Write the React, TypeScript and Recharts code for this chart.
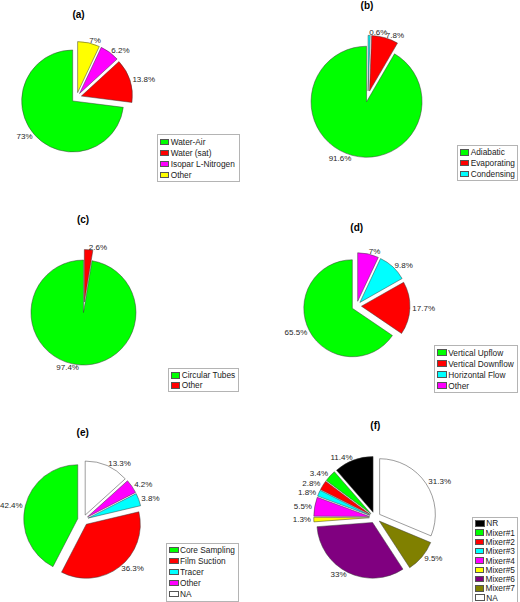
import React from "react";
import { PieChart, Pie, Sector, Legend } from "recharts";

const FONT = '"Liberation Sans", Arial, sans-serif';
const RAD = Math.PI / 180;

// (a) working fluids
const fluidNames = ["Water-Air", "Water (sat)", "Isopar L-Nitrogen", "Other"];
const fluidShares = [73, 13.8, 6.2, 7];
const fluidColors = ["#00ff00", "#ff0000", "#ff00ff", "#ffff00"];

// (b) heat transfer condition
const heatNames = ["Adiabatic", "Evaporating", "Condensing"];
const heatShares = [91.6, 7.8, 0.6];
const heatColors = ["#00ff00", "#ff0000", "#00ffff"];

// (c) geometry
const geometryNames = ["Circular Tubes", "Other"];
const geometryShares = [97.4, 2.6];
const geometryColors = ["#00ff00", "#ff0000"];

// (d) flow orientation
const orientationNames = ["Vertical Upflow", "Vertical Downflow", "Horizontal Flow", "Other"];
const orientationShares = [65.5, 17.7, 9.8, 7];
const orientationColors = ["#00ff00", "#ff0000", "#00ffff", "#ff00ff"];

// (e) measurement method
const methodNames = ["Core Sampling", "Film Suction", "Tracer", "Other", "NA"];
const methodShares = [42.4, 36.3, 3.8, 4.2, 13.3];
const methodColors = ["#00ff00", "#ff0000", "#00ffff", "#ff00ff", "#ffffff"];

// (f) mixer type
const mixerNames = ["NR", "Mixer#1", "Mixer#2", "Mixer#3", "Mixer#4", "Mixer#5", "Mixer#6", "Mixer#7", "NA"];
const mixerShares = [11.4, 3.4, 2.8, 1.8, 5.5, 1.3, 33, 9.5, 31.3];
const mixerColors = ["#000000", "#00ff00", "#ff0000", "#00ffff", "#ff00ff", "#ffff00", "#800080", "#808000", "#ffffff"];

type Panel = {
  title: string;
  names: string[];
  values: number[];
  colors: string[];
  cx: number;
  cy: number;
  r: number;
  tx: number;
  ty: number;
  lx: number;
  ly: number;
  lw: number;
  rowH: number;
};

const panels: Panel[] = [
  { title: "(a)", names: fluidNames, values: fluidShares, colors: fluidColors, cx: 76.5, cy: 97.6, r: 51, tx: 78.5, ty: 14, lx: 156.7, ly: 134.3, lw: 83.5, rowH: 11 },
  { title: "(b)", names: heatNames, values: heatShares, colors: heatColors, cx: 368, cy: 96.4, r: 55.5, tx: 367, ty: 5, lx: 456.7, ly: 145, lw: 61.6, rowH: 10.8 },
  { title: "(c)", names: geometryNames, values: geometryShares, colors: geometryColors, cx: 83.9, cy: 307.3, r: 52.5, tx: 83, ty: 219.3, lx: 167.7, ly: 368.3, lw: 71.6, rowH: 10 },
  { title: "(d)", names: orientationNames, values: orientationShares, colors: orientationColors, cx: 356.6, cy: 306, r: 48.5, tx: 356.7, ty: 226.7, lx: 434.3, ly: 345, lw: 84, rowH: 11 },
  { title: "(e)", names: methodNames, values: methodShares, colors: methodColors, cx: 83, cy: 520, r: 54, tx: 82.7, ty: 431.7, lx: 166, ly: 542.7, lw: 73.3, rowH: 11 },
  { title: "(f)", names: mixerNames, values: mixerShares, colors: mixerColors, cx: 375, cy: 517.5, r: 55.7, tx: 375.3, ty: 425, lx: 472.3, ly: 516.7, lw: 45.7, rowH: 9.3 },
];

function LegendBox({ names, colors, width, rowH }: { names: string[]; colors: string[]; width: number; rowH: number }) {
  return (
    <div
      style={{
        boxSizing: "border-box",
        width,
        border: "1px solid #b4b4b4",
        background: "#fff",
        padding: "1px 2px",
        fontFamily: FONT,
        fontSize: 8.3,
        color: "#1a1a1a",
        whiteSpace: "nowrap",
      }}
    >
      {names.map((n, i) => (
        <div key={n} style={{ display: "flex", alignItems: "center", height: rowH }}>
          <span
            style={{
              display: "inline-block",
              boxSizing: "border-box",
              width: 9.5,
              height: 6.5,
              background: colors[i],
              border: "0.5px solid #555",
              marginRight: 1.5,
            }}
          />
          <span>{n}</span>
        </div>
      ))}
    </div>
  );
}

function PiePanel({ p }: { p: Panel }) {
  const data = p.names.map((name, i) => ({ name, value: p.values[i] }));

  // every slice is pulled out along its mid angle, MATLAB style
  const slice = (props: any) => {
    const { cx, cy, outerRadius, startAngle, endAngle, midAngle, index, value } = props;
    const a = -midAngle * RAD;
    const d = outerRadius * 0.1;
    const ox = cx + d * Math.cos(a);
    const oy = cy + d * Math.sin(a);
    const lr = outerRadius * 1.15;
    const lx = cx + lr * Math.cos(a);
    const ly = cy + lr * Math.sin(a);
    return (
      <g key={`s-${index}`}>
        <Sector
          cx={ox}
          cy={oy}
          innerRadius={0}
          outerRadius={outerRadius}
          startAngle={startAngle}
          endAngle={endAngle}
          fill={p.colors[index]}
          fillOpacity={1}
          stroke="#3a3a3a"
          strokeWidth={0.5}
        />
        <text
          x={lx}
          y={ly}
          textAnchor={Math.cos(a) >= 0 ? "start" : "end"}
          dominantBaseline="central"
          fontFamily={FONT}
          fontSize={8}
          fill="#262626"
          stroke="none"
        >
          {`${value}%`}
        </text>
      </g>
    );
  };

  return (
    <>
      <div
        style={{
          position: "absolute",
          left: p.tx,
          top: p.ty,
          transform: "translate(-50%, -50%)",
          fontFamily: FONT,
          fontWeight: "bold",
          fontSize: 10,
          color: "#000",
          zIndex: 2,
        }}
      >
        {p.title}
      </div>
      <div style={{ position: "absolute", left: 0, top: 0 }}>
        <PieChart width={520} height={602} margin={{ top: 0, right: 0, bottom: 0, left: 0 }}>
          <Pie
            data={data}
            dataKey="value"
            nameKey="name"
            cx={p.cx}
            cy={p.cy}
            outerRadius={p.r}
            startAngle={90}
            endAngle={450}
            fill="none"
            stroke="none"
            labelLine={false}
            label={slice}
            isAnimationActive={false}
          />
          <Legend
            layout="vertical"
            align="right"
            verticalAlign="top"
            wrapperStyle={{ left: p.lx, top: p.ly, right: "auto", bottom: "auto", width: p.lw }}
            content={() => <LegendBox names={p.names} colors={p.colors} width={p.lw} rowH={p.rowH} />}
          />
        </PieChart>
      </div>
    </>
  );
}

export default function App() {
  return (
    <div style={{ position: "absolute", left: 0, top: 0, width: 520, height: 602, background: "#fff", overflow: "hidden" }}>
      {panels.map((p) => (
        <PiePanel key={p.title} p={p} />
      ))}
    </div>
  );
}
